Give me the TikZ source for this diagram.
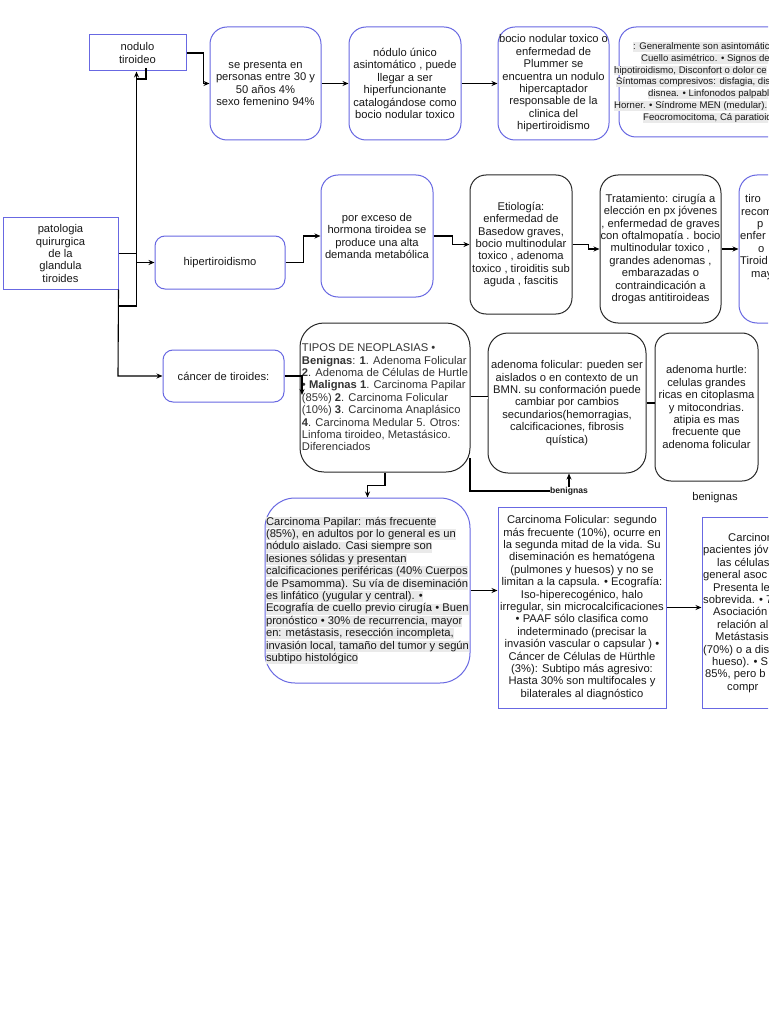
\documentclass[tikz,border=0pt]{standalone}
\usepackage{fontspec}
\setmainfont{Liberation Sans}
\usetikzlibrary{arrows.meta,calc}
\definecolor{bl}{RGB}{104,104,226}
\definecolor{dk}{RGB}{40,40,40}
\definecolor{hlg}{RGB}{234,234,234}
\definecolor{tx}{RGB}{25,25,25}
\newcommand\hlx[1]{{\setlength{\fboxsep}{0pt}\colorbox{hlg}{\rule[-2.6pt]{0pt}{9.4pt}#1}}}
\newcommand\hly[1]{{\setlength{\fboxsep}{0pt}\colorbox{hlg}{\rule[-2.4pt]{0pt}{8.9pt}#1}}}
\tikzset{
  base/.style={font=\fontsize{11.2}{12.4}\selectfont, text=tx, inner sep=0pt, line width=1pt, align=center},
  bbl/.style={base, draw=bl},
  bdk/.style={base, draw=dk},
  sz/.style 2 args={minimum width=#1pt, minimum height=#2pt},
  txt/.style={font=\fontsize{11.2}{12.4}\selectfont, text=tx, inner sep=0pt},
  arr/.style={-{Stealth[length=6pt,width=5pt]}, line width=1.1pt, black},
  ln/.style={line width=1.1pt, black}
}
\begin{document}
\begin{tikzpicture}[x=1pt,y=-1pt]
\fill[white] (0,0) rectangle (768,1024);
\useasboundingbox (0,0) rectangle (768,1024);
\clip (0,0) rectangle (768,1024);

% top row
\node[bbl, sz={97}{36}] (nod) at (137.5,53) {nodulo\\tiroideo};
\node[bbl, rounded corners=17pt, sz={111}{113}] (pres) at (265.5,83.5) {se presenta en\\personas entre 30 y\\50 años 4\%\\sexo femenino 94\%};
\node[bbl, rounded corners=17pt, sz={112}{113}] (unico) at (405,83.5) {nódulo único\\asintomático , puede\\llegar a ser\\hiperfuncionante\\catalogándose como\\bocio nodular toxico};
\node[bbl, rounded corners=17pt, sz={111}{113}] (bocio) at (553.5,83.5) {bocio nodular toxico o\\enfermedad de\\Plummer se\\encuentra un nodulo\\hipercaptador\\responsable de la\\clinica del\\hipertiroidismo};
\node[bbl, rounded corners=17pt, sz={220}{110}] (sint) at (729,82) {};
\node[txt, font=\fontsize{9.6}{11.8}\selectfont, anchor=west, align=left] (sintt) at (614,82.5)
 {\hspace*{19pt}\hly{: Generalmente son asintomático}\\
  \hspace*{27pt}\hly{Cuello asimétrico. • Signos de híp}\\
  \hly{hipotiroidismo, Disconfort o dolor ce}\\
  \hspace*{2pt}\hly{Síntomas compresivos: disfagia, dis}\\
  \hspace*{34pt}\hly{disnea. • Linfonodos palpables. •}\\
  \hly{Horner. • Síndrome MEN (medular).}\\
  \hspace*{29pt}\hly{Feocromocitoma, Cá paratioide}};

% middle row
\node[bbl, sz={115}{71}] (pat) at (60.5,253.5) {patologia\\quirurgica\\de la\\glandula\\tiroides};
\node[bbl, rounded corners=10pt, sz={130}{53}] (hiper) at (220,262.5) {hipertiroidismo};
\node[bbl, rounded corners=17pt, sz={112}{122}] (exceso) at (377,236) {por exceso de\\hormona tiroidea se\\produce una alta\\demanda metabólica};
\node[bdk, rounded corners=16pt, sz={102}{139}] (etio) at (521,244.5) {Etiología:\\enfermedad de\\Basedow graves,\\bocio multinodular\\toxico , adenoma\\toxico , tiroiditis sub\\aguda , fascitis};
\node[bdk, rounded corners=18pt, sz={121}{148}] (trat) at (660.5,249) {Tratamiento: cirugía a\\elección en px jóvenes\\, enfermedad de graves\\con oftalmopatía . bocio\\multinodular toxico ,\\grandes adenomas ,\\embarazadas o\\contraindicación a\\drogas antitiroideas};
\node[bbl, rounded corners=18pt, sz={121}{148}] (tiro) at (799.5,249) {};
\node[txt, anchor=west, align=left] (tirot) at (740,237)
 {\hspace*{5pt}tiro\\\hspace*{1pt}recom\\\hspace*{17pt}p\\enfer\\\hspace*{18pt}o\\Tiroid\\\hspace*{11pt}may};

% cancer row
\node[bbl, rounded corners=10pt, sz={121}{52}] (cancer) at (223.5,376) {cáncer de tiroides:};
\node[bdk, rounded corners=24pt, sz={170}{149}, align=left, text=black!80] (tipos) at (385,397.5)
 {TIPOS DE NEOPLASIAS •\\
  \textbf{Benignas}: \textbf{1}. Adenoma Folicular\\
  \textbf{2}. Adenoma de Células de Hurtle\\
  • \textbf{Malignas 1}. Carcinoma Papilar\\
  (85\%) \textbf{2}. Carcinoma Folicular\\
  (10\%) \textbf{3}. Carcinoma Anaplásico\\
  \textbf{4}. Carcinoma Medular 5. Otros:\\
  Linfoma tiroideo, Metastásico.\\
  Diferenciados};
\node[bdk, rounded corners=20pt, sz={158}{140}] (adfol) at (567,403) {adenoma folicular: pueden ser\\aislados o en contexto de un\\BMN. su conformación puede\\cambiar por cambios\\secundarios(hemorragias,\\calcificaciones, fibrosis\\quística)};
\node[bdk, rounded corners=16pt, sz={103}{148}] (adhur) at (706.5,407) {adenoma hurtle:\\celulas grandes\\ricas en citoplasma\\y mitocondrias.\\atipia es mas\\frecuente que\\adenoma folicular};
\node[txt, font=\fontsize{8.6}{10}\selectfont\bfseries] (ben1) at (569,491) {benignas};
\node[txt] (ben2) at (715,498) {benignas};

% bottom row
\node[bbl, rounded corners=30pt, sz={205}{185}, align=left] (papi) at (367.5,590.5)
 {\hlx{Carcinoma Papilar: más frecuente}\\
  \hlx{(85\%), en adultos por lo general es un}\\
  \hlx{nódulo aislado. Casi siempre son}\\
  \hlx{lesiones sólidas y presentan}\\
  \hlx{calcificaciones periféricas (40\% Cuerpos}\\
  \hlx{de Psamomma). Su vía de diseminación}\\
  \hlx{es linfático (yugular y central). •}\\
  \hlx{Ecografía de cuello previo cirugía • Buen}\\
  \hlx{pronóstico • 30\% de recurrencia, mayor}\\
  \hlx{en: metástasis, resección incompleta,}\\
  \hlx{invasión local, tamaño del tumor y según}\\
  \hlx{subtipo histológico}};
\node[bbl, sz={168}{201}] (foli) at (582,607.5)
 {Carcinoma Folicular: segundo\\más frecuente (10\%), ocurre en\\la segunda mitad de la vida. Su\\diseminación es hematógena\\(pulmones y huesos) y no se\\limitan a la capsula. • Ecografía:\\Iso-hiperecogénico, halo\\irregular, sin microcalcificaciones\\• PAAF sólo clasifica como\\indeterminado (precisar la\\invasión vascular o capsular ) •\\Cáncer de Células de Hürthle\\(3\%): Subtipo más agresivo:\\Hasta 30\% son multifocales y\\bilaterales al diagnóstico};
\node[bbl, sz={168}{191}] (medu) at (786,612.5) {};
\node[txt, anchor=west, align=left] (medut) at (703,613)
 {\hspace*{25pt}Carcinoma\\pacientes jóv\\\hspace*{14pt}las células\\general asoc\\\hspace*{10pt}Presenta le\\sobrevida. • 7\\\hspace*{10pt}Asociación\\\hspace*{14pt}relación al\\\hspace*{12pt}Metástasis:\\(70\%) o a dis\\\hspace*{9pt}hueso). • S\\\hspace*{2pt}85\%, pero b\\\hspace*{24pt}compr};

% junctions
\coordinate (spine) at (136.5,306);
\coordinate (pcor) at (118,306);
\coordinate (cdown) at (118,376);
\coordinate (cend) at (302,395);
\coordinate (hk) at (146,68);
\coordinate (bstart) at (470,458);

% connectors
\draw[arr] (nod.east) -- ++(17,0) |- (pres.west);
\draw[arr] (pres.east) -- (unico.west);
\draw[arr] (unico.east) -- (bocio.west);
\draw[ln] (hk) -- ++(0,11) -- ++(-9,0);
\draw[ln] (pat.east) -- (pat.east -| spine);
\draw[ln] (pcor) -- (spine);
\draw[arr] (spine) -- (spine |- nod.south);
\draw[arr] (spine |- hiper.west) -- (hiper.west);
\draw[arr] (pat.south east) -- (cdown) -- (cancer.west);
\draw[arr] (hiper.east) -- ++(18,0) |- (exceso.west);
\draw[arr] (exceso.east) -- ++(19,0) |- (etio.west);
\draw[arr] (etio.east) -- ++(16,0) |- (trat.west);
\draw[arr] (trat.east) -- (tiro.west);
\draw[arr] (cancer.east) -| (cend);
\draw[line width=0.7pt, double, double distance=2pt] (tipos.east) -- (tipos.east -| adfol.west);
\draw[ln] (adfol.east) -- (adfol.east -| adhur.west);
\draw[ln] (bstart) |- (ben1.west);
\draw[arr] (ben1.north) -- (ben1.north |- adfol.south);
\draw[arr] (tipos.south) -- ++(0,13) -| (papi.north);
\draw[arr] (papi.east) -- (papi.east -| foli.west);
\draw[arr] (foli.east) -- (foli.east -| medu.west);
\end{tikzpicture}
\end{document}
